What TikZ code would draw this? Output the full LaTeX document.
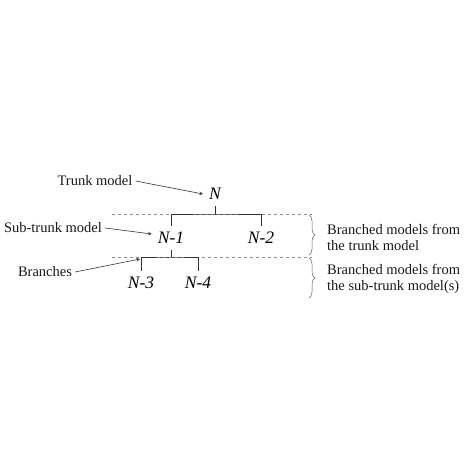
\documentclass[tikz,border=0pt]{standalone}
\usepackage{fontspec}
\setmainfont{Liberation Serif}
\usetikzlibrary{shapes,arrows,positioning,calc,fit,decorations.pathreplacing}

\begin{document}
\begin{tikzpicture}[x=1pt, y=-1pt, font=\fontsize{14.5}{15.5}\selectfont]
    % Styles
    \tikzstyle{model} = [inner sep=6pt, text=black, font=\fontsize{17.5}{18}\selectfont\itshape]
    \tikzstyle{label} = [inner sep=3pt, text=black!90]
    \tikzstyle{tree} = [draw=black!80, line width=0.8pt]
    \tikzstyle{pointer} = [draw=black!80, line width=0.6pt, ->, >=stealth]
    \tikzstyle{level} = [draw=black!45, dashed, line width=0.5pt]
    \tikzstyle{group} = [draw=black!60, line width=0.5pt, decorate, decoration={brace, amplitude=6pt}]
    \tikzstyle{note} = [align=left, anchor=west, inner sep=0pt, text=black!90]

    \useasboundingbox (0,0) rectangle (474,474);

    % Levels
    \draw[level] (112,214) -- (312,214);
    \draw[level] (112,257) -- (312,257);

    % Models
    \node[model] (n) at (215,194) {N};
    \node[model] (nA) at (171,238) {N-1};
    \node[model] (nB) at (261,238) {N-2};
    \node[model] (nC) at (141,283) {N-3};
    \node[model] (nD) at (198,283) {N-4};

    % Labels
    \node[label] (lblTrunk) at (95,181) {Trunk model};
    \node[label] (lblSub) at (53,228) {Sub-trunk model};
    \node[label] (lblBranch) at (45,272) {Branches};

    % Tree
    \coordinate (split1) at (215,214);
    \coordinate (split2) at (171,257);
    \draw[tree] (n.south) -- (split1);
    \draw[tree] (nA.north) |- (split1) -| (nB.north);
    \draw[tree] (nA.south) -- (split2);
    \draw[tree] (nC.north) |- (split2) -| (nD.north);
    \coordinate (barC) at (140,259);

    % Pointers
    \draw[pointer] (lblTrunk.east) -- (n.west);
    \draw[pointer] (lblSub.east) -- ($(nA.west)+(0,-4)$);
    \draw[pointer] (lblBranch.east) -- (barC);

    % Braces
    \draw[group] (309,215) -- (309,255);
    \draw[group] (309,258) -- (309,298);
    \node[note] (txtTrunk) at (327,237.5) {Branched models from\\the trunk model};
    \node[note] (txtSub) at (327,279) {Branched models from\\the sub-trunk model(s)};
\end{tikzpicture}
\end{document}
